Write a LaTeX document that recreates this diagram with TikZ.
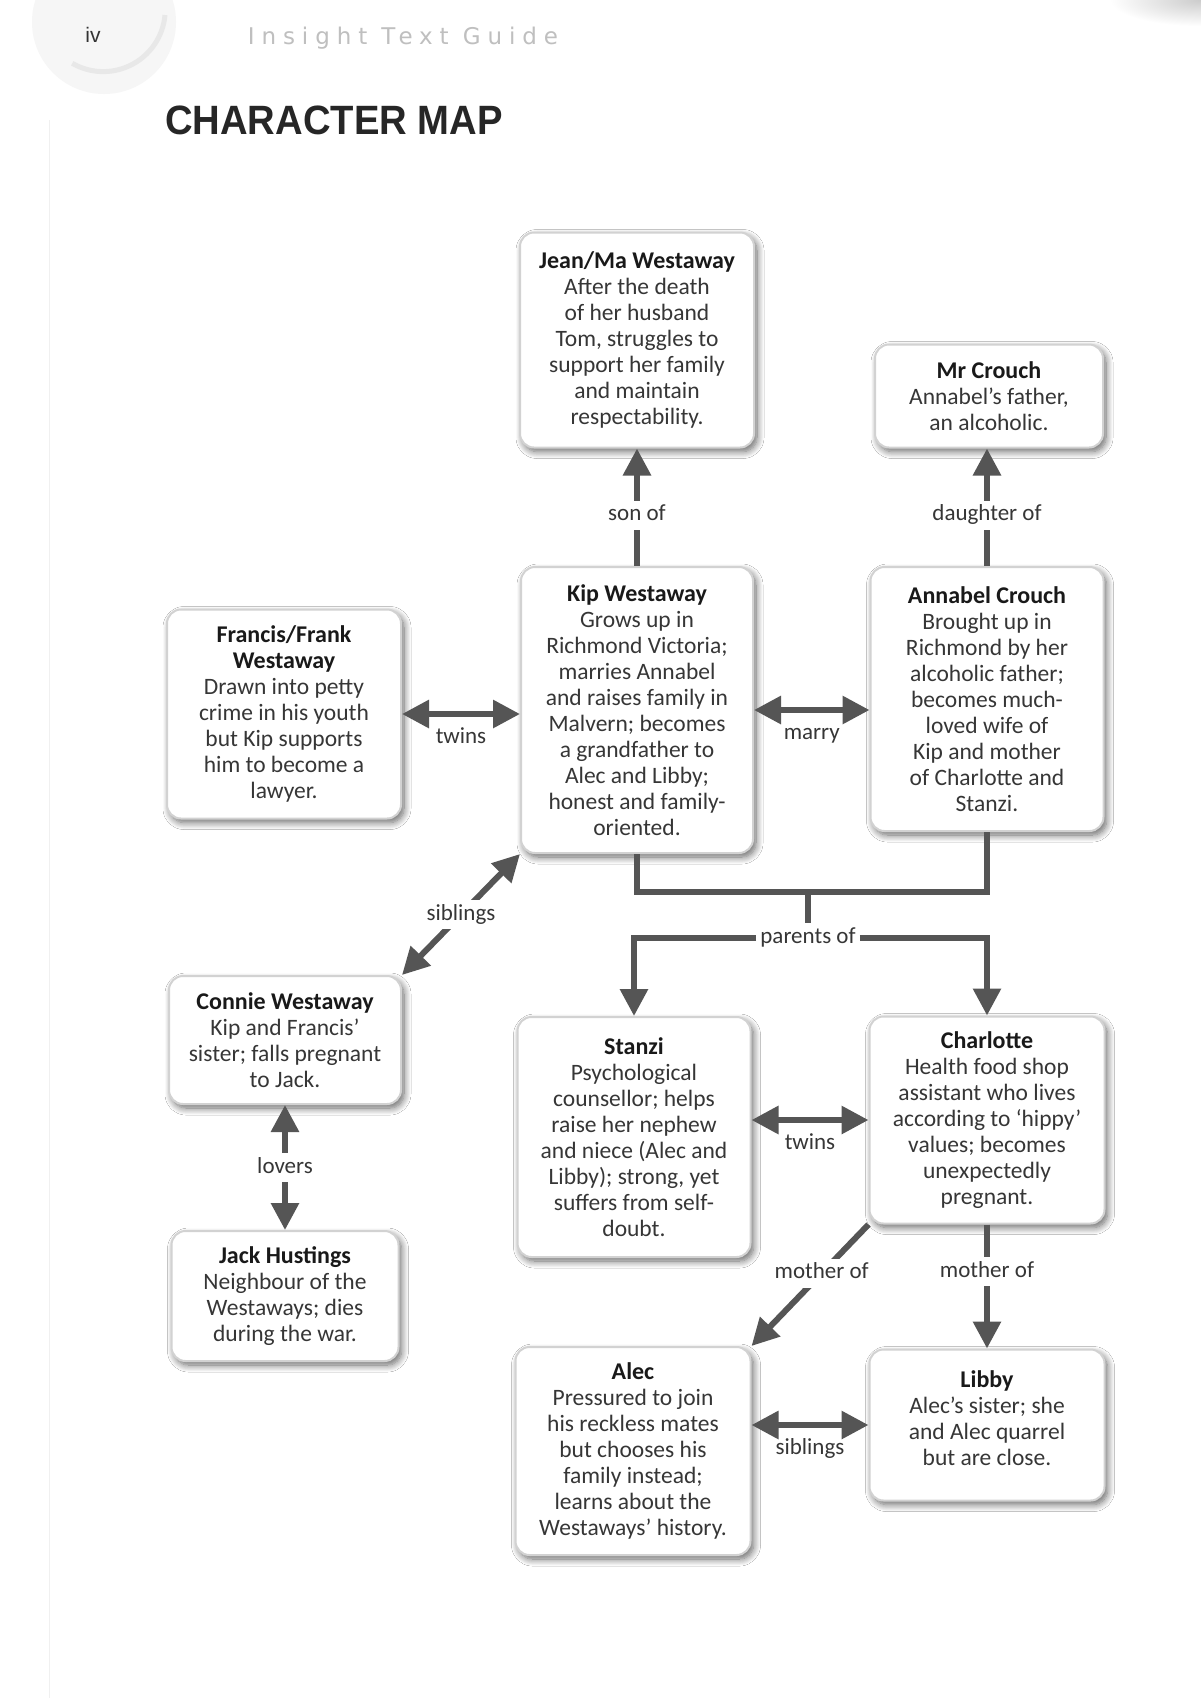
\documentclass[tikz,border=0pt]{standalone}
\usepackage{fontspec}
\setmainfont{Carlito}
\newfontfamily\hdrfont[LetterSpace=30]{DejaVu Sans}
\newfontfamily\bigfont{Liberation Sans}
\usetikzlibrary{arrows.meta,shadows.blur,calc}
\definecolor{arrowgray}{HTML}{555555}
\definecolor{txtgray}{HTML}{363636}
\newcommand\chtitle[1]{{\fontsize{24}{26}\selectfont\bfseries\color{black!90}#1}}
\begin{document}
\begin{tikzpicture}[x=1pt,y=-1pt,
  box/.style={rectangle, rounded corners=14pt, fill=white, draw=gray!35, line width=2pt,
    align=center, text=txtgray, font=\fontsize{23.5}{26}\selectfont, inner sep=4pt,
    blur shadow={shadow xshift=3pt, shadow yshift=-4pt, shadow blur radius=7pt, shadow blur steps=10, shadow opacity=60}},
  lbl/.style={fill=white, text=txtgray, font=\fontsize{23}{26}\selectfont, inner sep=4pt, text height=16pt, text depth=5pt},
  lnk/.style={draw=arrowgray, line width=6pt, line join=miter},
  arr/.style={lnk, -{Triangle[length=27pt,width=27pt]}},
  darr/.style={lnk, {Triangle[length=27pt,width=27pt]}-{Triangle[length=27pt,width=27pt]}},
]
\useasboundingbox (0,0) rectangle (1200,1698);
\fill[white] (0,0) rectangle (1200,1698);
% page decorations
\fill[gray!7] (104,22) circle (72pt);
\draw[gray!18, line width=5pt] (165,15) arc[start angle=-5, end angle=-120, radius=62pt];
\shade[inner color=gray!40, outer color=white] (1200,0) ellipse (90pt and 26pt);
\draw[gray!12, line width=1pt] (49,120) -- (49,1698);
\node (pg) at (93,35) {\bigfont\fontsize{21}{21}\selectfont\color{black!80} iv};
\node (hdr) at (403,38) {\hdrfont\fontsize{23}{23}\selectfont\color{gray!50} Insight Text Guide};
\node[anchor=west, inner sep=0pt] (cm) at (165,120) {\scalebox{0.98}[1.05]{\bigfont\bfseries\fontsize{39}{39}\selectfont\color{black!85} CHARACTER MAP}};

% boxes
\node[box, minimum width=234pt, minimum height=215pt] (jean) at (637,340)
 {\chtitle{Jean/Ma Westaway}\\After the death\\of her husband\\Tom, struggles to\\support her family\\and maintain\\respectability.};
\node[box, minimum width=228pt, minimum height=103pt] (crouch) at (989,396)
 {\chtitle{Mr Crouch}\\Annabel’s father,\\an alcoholic.};
\node[box, minimum width=232pt, minimum height=286pt] (kip) at (637,710)
 {\chtitle{Kip Westaway}\\Grows up in\\Richmond Victoria;\\marries Annabel\\and raises family in\\Malvern; becomes\\a grandfather to\\Alec and Libby;\\honest and family-\\oriented.};
\node[box, minimum width=233pt, minimum height=264pt] (ann) at (987,699)
 {\chtitle{Annabel Crouch}\\Brought up in\\Richmond by her\\alcoholic father;\\becomes much-\\loved wife of\\Kip and mother\\of Charlotte and\\Stanzi.};
\node[box, minimum width=234pt, minimum height=209pt] (franc) at (284,714)
 {\chtitle{Francis/Frank}\\\chtitle{Westaway}\\Drawn into petty\\crime in his youth\\but Kip supports\\him to become a\\lawyer.};
\node[box, minimum width=232pt, minimum height=128pt] (connie) at (285,1040)
 {\chtitle{Connie Westaway}\\Kip and Francis’\\sister; falls pregnant\\to Jack.};
\node[box, minimum width=227pt, minimum height=130pt] (jack) at (285,1296)
 {\chtitle{Jack Hustings}\\Neighbour of the\\Westaways; dies\\during the war.};
\node[box, minimum width=233pt, minimum height=240pt] (stanzi) at (634,1137)
 {\chtitle{Stanzi}\\Psychological\\counsellor; helps\\raise her nephew\\and niece (Alec and\\Libby); strong, yet\\suffers from self-\\doubt.};
\node[box, minimum width=235pt, minimum height=207pt] (charl) at (987,1120)
 {\chtitle{Charlotte}\\Health food shop\\assistant who lives\\according to ‘hippy’\\values; becomes\\unexpectedly\\pregnant.};
\node[box, minimum width=235pt, minimum height=208pt] (alec) at (633,1451)
 {\chtitle{Alec}\\Pressured to join\\his reckless mates\\but chooses his\\family instead;\\learns about the\\Westaways’ history.};
\node[box, minimum width=235pt, minimum height=151pt, text depth=14pt] (libby) at (987,1425)
 {\chtitle{Libby}\\Alec’s sister; she\\and Alec quarrel\\but are close.};

% connectors
\draw[arr] (kip.north) -- (jean.south) node[lbl, pos=0.43] {son of};
\draw[arr] (ann.north) -- (ann.north |- crouch.south) node[lbl, pos=0.43] {daughter of};
\draw[darr] (franc.east) -- (franc.east -| kip.west) node[lbl, midway, below=6pt, fill=none] {twins};
\draw[darr] (kip.east) -- (kip.east -| ann.west) node[lbl, midway, below=6pt, fill=none] {marry};
\draw[darr] (kip.south west) -- (connie.north east) node[lbl, midway] {siblings};
\draw[darr] (connie.south) -- (jack.north) node[lbl, midway] {lovers};

\coordinate (pj) at (808,892);
\node[lbl] (par) at (808,938) {parents of};
\draw[lnk] (kip.south) |- (pj) -| (ann.south);
\draw[lnk] (pj) -- (par.north);
\draw[arr] (par.west) -| (stanzi.north);
\draw[arr] (par.east) -| (charl.north);

\draw[darr] (charl.west -| stanzi.east) -- (charl.west) node[lbl, midway, below=6pt, fill=none] {twins};
\draw[arr] (charl.south west) -- (alec.north east) node[lbl, pos=0.4] {mother of};
\draw[arr] (charl.south) -- (libby.north) node[lbl, pos=0.38] {mother of};
\draw[darr] (libby.west -| alec.east) -- (libby.west) node[lbl, midway, below=6pt, fill=none] {siblings};
\end{tikzpicture}
\end{document}
